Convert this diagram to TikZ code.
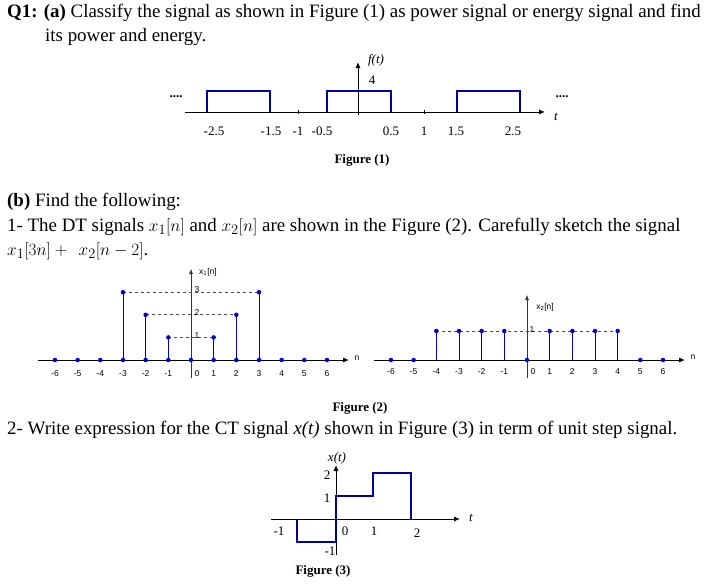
\documentclass[tikz,border=0pt]{standalone}
\usepackage{fontspec}
\setmainfont{Liberation Serif}
\newfontfamily\arialf{Liberation Sans}
\usetikzlibrary{arrows.meta}
\begin{document}
\begin{tikzpicture}[x=1pt,y=-1pt,
  txt/.style={anchor=west,inner sep=0pt,font=\fontsize{18.9}{22}\selectfont},
  lbl/.style={inner sep=0pt,font=\fontsize{13}{15}\selectfont},
  sl/.style={inner sep=0pt,font=\arialf\fontsize{8.5}{9}\selectfont},
  ax/.style={black,line width=0.9pt,-{Latex[length=6pt,width=5pt]}},
  sig/.style={blue!60!black,line width=2pt},
  stem/.style={blue!70!black,line width=0.8pt},
  dotn/.style={circle,fill=blue!80!black,inner sep=0pt,minimum size=4.5pt},
  dsh/.style={gray!60!black,dashed,line width=0.6pt}]
\useasboundingbox (0,0) rectangle (712,584);
\fill[white] (0,0) rectangle (712,584);
% text
\node[txt] (l1) at (7,13) {\textbf{Q1:} \textbf{(a)} Classify the signal as shown in Figure (1) as power signal or energy signal and find};
\node[txt] (l2) at (45,37) {its power and energy.};
\node[txt] (l3) at (7,202) {\textbf{(b)} Find the following:};
\node[txt] (l4) at (7,227) {1- The DT signals $x_1[n]$ and $x_2[n]$ are shown in the Figure (2). Carefully sketch the signal};
\node[txt] (l5) at (7,251) {$x_1[3n]+\ \,x_2[n-2]$.};
\node[txt] (l6) at (7,430) {2- Write expression for the CT signal \textit{x(t)} shown in Figure (3) in term of unit step signal.};
% Figure 1
\draw[ax] (185,112) -- (545,112);
\draw[ax] (358,115) -- (358,62);
\draw[sig] (207,112) -- (207,91) -- (270,91) -- (270,112);
\draw[sig] (327,112) -- (327,91) -- (391,91) -- (391,112);
\draw[sig] (457,112) -- (457,91) -- (520,91) -- (520,112);
\draw (298,110) -- (298,114) (424,110) -- (424,114);
\node[lbl] (ft) at (376,60) {\textit{f(t)}};
\node[lbl] (f4) at (372,80) {4};
\node[lbl] (d1) at (176,97) {\textbf{....}};
\node[lbl] (d2) at (562,97) {\textbf{....}};
\node[lbl] (tt) at (556,117) {\textit{t}};
\foreach \x/\l in {214/-2.5,271/-1.5,298/-1,322/-0.5,391/0.5,424/1,456/1.5,513/2.5}
  \node[lbl] at (\x,131) {\l};
\node[lbl] (c1) at (362,160) {\textbf{Figure (1)}};
% Figure 2 left
\draw[ax] (38,360) -- (349,360);
\draw[line width=0.6pt,gray!40!black,-{Latex[length=5pt,width=4pt]}] (191,378) -- (191,269);
\draw[dsh] (123,292) -- (259,292);
\draw[dsh] (146,314) -- (236,314);
\draw[dsh] (168,337) -- (214,337);
\foreach \n/\h in {-3/3,-2/2,-1/1,1/1,2/2,3/3}
 { \draw[stem] (191+22.67*\n,360) -- (191+22.67*\n,360-22.6*\h);
   \node[dotn] at (191+22.67*\n,360-22.6*\h) {}; }
\foreach \n in {-6,...,6} \node[dotn] at (191+22.67*\n,360) {};
\foreach \n in {-6,...,-1,1,2,...,6} \node[sl] at (191+22.67*\n,374) {\n};
\node[sl] at (197,374) {0};
\node[sl] at (197,290) {3};
\node[sl] at (197,313) {2};
\node[sl] at (197,336) {1};
\node[sl] (x1l) at (208,272) {x\textsubscript{1}[n]};
\node[sl] (nl) at (357,358) {n};
% Figure 2 right
\draw[ax] (374,360) -- (685,360);
\draw[line width=0.6pt,gray!40!black,-{Latex[length=5pt,width=4pt]}] (527,378) -- (527,295);
\draw[dsh] (436,331) -- (618,331);
\foreach \n in {-4,...,-1,1,2,3,4}
 { \draw[stem] (527+22.67*\n,360) -- (527+22.67*\n,331);
   \node[dotn] at (527+22.67*\n,331) {}; }
\foreach \n in {-6,-5,0,5,6} \node[dotn] at (527+22.67*\n,360) {};
\foreach \n in {-6,...,-1,1,2,...,6} \node[sl] at (527+22.67*\n,372) {\n};
\node[sl] at (533,372) {0};
\node[sl] at (532,330) {1};
\node[sl] (x2l) at (545,307) {x\textsubscript{2}[n]};
\node[sl] (nr) at (693,357) {n};
\node[lbl] (c2) at (360,408) {\textbf{Figure (2)}};
% Figure 3
\draw[ax] (271,519) -- (460,519);
\draw[ax] (336,555) -- (336,465);
\draw[sig] (297,519) -- (297,542) -- (336,542) -- (336,496) -- (373,496) -- (373,473) -- (411,473) -- (411,519);
\node[lbl] (xt) at (337,458) {\textit{x(t)}};
\node[lbl] (t3) at (471,518) {\textit{t}};
\node[lbl] at (327,475) {2};
\node[lbl] at (327,498) {1};
\node[lbl] at (279,531) {-1};
\node[lbl] at (345,531) {0};
\node[lbl] at (374,531) {1};
\node[lbl] at (417,533) {2};
\node[lbl] at (330,551) {-1};
\node[lbl] (c3) at (323,571) {\textbf{Figure (3)}};
\end{tikzpicture}
\end{document}
